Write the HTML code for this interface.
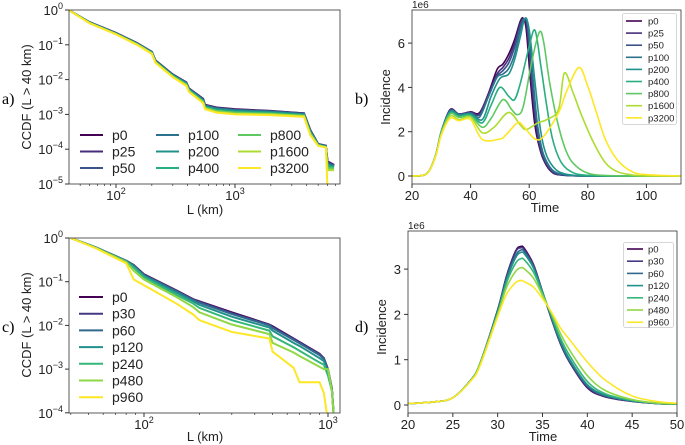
<!DOCTYPE html>
<html><head><meta charset="utf-8"><style>
html,body{margin:0;padding:0;background:#fff;}
svg{display:block;font-family:"Liberation Sans","DejaVu Sans",sans-serif;}
</style></head><body>
<svg id="fig" width="685" height="445" viewBox="0 0 685 445" xmlns="http://www.w3.org/2000/svg">
<defs>
<clipPath id="ca"><rect x="69" y="10" width="271" height="174"/></clipPath>
<clipPath id="cb"><rect x="412" y="10" width="269" height="174"/></clipPath>
<clipPath id="cc"><rect x="69" y="238" width="271" height="175"/></clipPath>
<clipPath id="cd"><rect x="408" y="231" width="269" height="182"/></clipPath>
</defs>
</svg>
<script>
// ---------- Panel a data (CCDF exponents, log10) ----------
const namesA = ['p0','p25','p50','p100','p200','p400','p800','p1600','p3200'];
const lenA = [40,60,100,150,200,215,300,390,410,540,560,700,1000,2000,3800,4300,5000,5800,6000,6800];
const ccdfExpA_p0    = [0,-.35,-.66,-.95,-1.20,-1.45,-1.85,-2.08,-2.25,-2.55,-2.72,-2.80,-2.85,-2.90,-2.97,-3.45,-3.85,-3.90,-4.35,-4.45];
const ccdfExpA_p25   = [0,-.35,-.66,-.95,-1.20,-1.46,-1.86,-2.09,-2.26,-2.56,-2.73,-2.81,-2.86,-2.91,-2.97,-3.46,-3.85,-3.90,-4.37,-4.45];
const ccdfExpA_p50   = [0,-.35,-.67,-.96,-1.21,-1.46,-1.86,-2.09,-2.26,-2.57,-2.74,-2.82,-2.87,-2.91,-2.98,-3.47,-3.86,-3.91,-4.40,-4.47];
const ccdfExpA_p100  = [0,-.36,-.67,-.96,-1.21,-1.47,-1.87,-2.10,-2.27,-2.58,-2.75,-2.83,-2.88,-2.92,-2.99,-3.48,-3.86,-3.91,-4.42,-4.48];
const ccdfExpA_p200  = [0,-.36,-.68,-.97,-1.22,-1.48,-1.88,-2.11,-2.28,-2.60,-2.77,-2.85,-2.90,-2.94,-3.00,-3.50,-3.87,-3.92,-4.45,-4.50];
const ccdfExpA_p400  = [0,-.37,-.68,-.98,-1.23,-1.49,-1.89,-2.13,-2.30,-2.62,-2.79,-2.88,-2.93,-2.96,-3.02,-3.53,-3.88,-3.93,-4.50,-4.52];
const ccdfExpA_p800  = [0,-.37,-.69,-.98,-1.24,-1.50,-1.91,-2.15,-2.32,-2.64,-2.81,-2.90,-2.95,-2.98,-3.04,-3.55,-3.89,-3.94,-4.55,-4.55];
const ccdfExpA_p1600 = [0,-.38,-.69,-.99,-1.25,-1.51,-1.92,-2.16,-2.34,-2.66,-2.83,-2.93,-2.98,-3.00,-3.05,-3.58,-3.90,-3.95,-4.60,-4.60];
const ccdfExpA_p3200 = [0,-.38,-.70,-1.00,-1.26,-1.52,-1.93,-2.18,-2.35,-2.68,-2.85,-2.95,-3.00,-3.02,-3.07,-3.60,-3.90,-3.95,-5.20,-5.20];
const seriesA = [ccdfExpA_p0,ccdfExpA_p25,ccdfExpA_p50,ccdfExpA_p100,ccdfExpA_p200,ccdfExpA_p400,ccdfExpA_p800,ccdfExpA_p1600,ccdfExpA_p3200];
const xTicksA = [2,3];
const yTicksA = [0,-1,-2,-3,-4,-5];

// ---------- Panel b data (incidence, 1e6) ----------
const namesB = ['p0','p25','p50','p100','p200','p400','p800','p1600','p3200'];
const timeB_p0 = [20,25,28,30,33,36,40,43,46,49,51,53,55,57,58,59,60.5,62,64,66,68,71,80,112];
const incB_p0  = [0,0.1,0.9,2.0,3.0,2.8,2.9,2.85,3.7,4.8,5.05,5.5,6.15,7.0,7.1,6.6,4.2,2.25,1.05,0.45,0.15,0.04,0,0];
const timeB_p25 = [20,25,28,30,33,36,40,43,46,49,51,53,55,57,58.2,59.2,60.7,62.2,64,66,68,71,80,112];
const incB_p25  = [0,0.1,0.9,2.0,2.98,2.8,2.88,2.8,3.65,4.6,4.9,5.3,6.0,6.9,7.1,6.7,4.4,2.4,1.1,0.5,0.17,0.05,0,0];
const timeB_p50 = [20,25,28,30,33,36,40,43,46,49,51,53,55,57,58.3,59.4,61,62.5,64.3,66.3,68.3,71.5,80,112];
const incB_p50  = [0,0.1,0.9,2.0,2.96,2.79,2.86,2.75,3.6,4.5,4.75,5.1,5.8,6.8,7.1,6.75,4.4,2.4,1.1,0.5,0.18,0.05,0,0];
const timeB_p100 = [20,25,28,30,33,36,40,43,46,49,51,53,55,57,58.4,59.6,61.3,62.8,64.6,66.6,68.6,72,80,112];
const incB_p100  = [0,0.1,0.9,2.0,2.93,2.78,2.83,2.65,3.55,4.45,4.6,4.85,5.5,6.6,7.1,6.8,4.4,2.35,1.1,0.5,0.2,0.06,0,0];
const timeB_p200 = [20,25,28,30,33,36,40,44,47,50,53,55,57,58.5,60,62,64,66,69,72,76,80,90,112];
const incB_p200  = [0,0.1,0.9,2.0,2.9,2.75,2.8,2.55,3.6,4.4,4.6,5.25,6.3,7.1,6.6,4.2,1.95,0.9,0.3,0.1,0.02,0,0,0];
const timeB_p400 = [20,25,28,30,33,36,40,44,47,50,53,55,57,60,62,64,66,68,71,75,80,90,100,112];
const incB_p400  = [0,0.1,0.9,1.98,2.85,2.7,2.75,2.4,3.2,4.0,3.6,3.45,4.2,5.85,6.57,4.95,3.15,1.65,0.6,0.15,0.03,0,0,0];
const timeB_p800 = [20,25,28,30,33,36,40,44,47,51,54,56,58,61,63.5,65,67,70,73,76,80,85,95,112];
const incB_p800  = [0,0.1,0.9,1.95,2.8,2.65,2.7,2.2,2.6,3.45,3.0,2.77,3.15,5.25,6.5,6.0,4.2,2.25,1.0,0.45,0.13,0.03,0,0];
const timeB_p1600 = [20,25,28,30,33,36,40,44,48,53,57,59,63,66,70,72,75,78,82,86,90,95,100,112];
const incB_p1600  = [0,0.1,0.9,1.9,2.7,2.55,2.65,1.95,2.2,2.87,2.3,2.1,2.4,2.55,3.0,4.65,3.75,2.7,1.5,0.6,0.2,0.05,0,0];
const timeB_p3200 = [20,25,28,30,33,36,40,44,50,52,56,58,62,65,70,73,77,80,83,86,90,95,100,112];
const incB_p3200  = [0,0.1,0.85,1.85,2.6,2.5,2.55,1.65,1.67,1.85,2.4,2.25,1.67,1.8,2.85,3.9,4.9,4.05,2.85,1.65,0.74,0.2,0.06,0];
const timesB = [timeB_p0,timeB_p25,timeB_p50,timeB_p100,timeB_p200,timeB_p400,timeB_p800,timeB_p1600,timeB_p3200];
const valsB = [incB_p0,incB_p25,incB_p50,incB_p100,incB_p200,incB_p400,incB_p800,incB_p1600,incB_p3200];
const xTicksB = [20,40,60,80,100];
const yTicksB = [0,2,4,6];

// ---------- Panel c data (CCDF exponents, log10) ----------
const namesC = ['p0','p30','p60','p120','p240','p480','p960'];
const lenC = [40,55,80,88,100,150,185,200,300,480,500,650,700,900,950,1000,1050,1080];
const ccdfExpC_p0   = [0,-.22,-.52,-.62,-.83,-1.20,-1.40,-1.45,-1.70,-1.98,-2.02,-2.30,-2.38,-2.65,-2.75,-3.00,-3.45,-4.2];
const ccdfExpC_p30  = [0,-.22,-.52,-.62,-.84,-1.21,-1.41,-1.46,-1.72,-1.99,-2.04,-2.31,-2.39,-2.66,-2.76,-3.01,-3.45,-4.2];
const ccdfExpC_p60  = [0,-.22,-.52,-.63,-.85,-1.22,-1.42,-1.48,-1.74,-2.00,-2.06,-2.33,-2.41,-2.68,-2.77,-3.03,-3.46,-4.2];
const ccdfExpC_p120 = [0,-.22,-.53,-.65,-.87,-1.25,-1.45,-1.53,-1.80,-2.05,-2.12,-2.40,-2.47,-2.75,-2.82,-3.10,-3.48,-4.2];
const ccdfExpC_p240 = [0,-.23,-.54,-.68,-.90,-1.30,-1.50,-1.60,-1.88,-2.12,-2.25,-2.50,-2.58,-2.85,-2.90,-3.15,-3.50,-4.2];
const ccdfExpC_p480 = [0,-.23,-.55,-.75,-.95,-1.35,-1.58,-1.70,-1.98,-2.20,-2.40,-2.62,-2.70,-2.95,-3.00,-3.00,-3.50,-4.2];
const ccdfExpC_p960 = [0,-.24,-.58,-.95,-1.08,-1.50,-1.75,-1.88,-2.15,-2.30,-2.60,-2.97,-3.30,-3.30,-3.55,-4.2,-4.2,-4.2];
const seriesC = [ccdfExpC_p0,ccdfExpC_p30,ccdfExpC_p60,ccdfExpC_p120,ccdfExpC_p240,ccdfExpC_p480,ccdfExpC_p960];
const xTicksC = [2,3];
const yTicksC = [0,-1,-2,-3,-4];

// ---------- Panel d data (incidence, 1e6) ----------
const namesD = ['p0','p30','p60','p120','p240','p480','p960'];
const timeD = [20,23,25,27,28,30,31,32,32.6,33,34,35,36,37,38,40,42,45,48,50];
const incD_p0   = [0.03,0.07,0.16,0.55,0.9,2.1,2.85,3.4,3.5,3.45,3.1,2.5,1.9,1.35,0.95,0.38,0.18,0.08,0.03,0.02];
const incD_p30  = [0.03,0.07,0.16,0.55,0.9,2.1,2.85,3.38,3.47,3.42,3.08,2.5,1.9,1.36,0.96,0.4,0.19,0.08,0.03,0.02];
const incD_p60  = [0.03,0.07,0.16,0.55,0.9,2.08,2.8,3.3,3.42,3.38,3.05,2.5,1.92,1.38,0.98,0.42,0.2,0.09,0.03,0.02];
const incD_p120 = [0.03,0.07,0.16,0.55,0.9,2.06,2.76,3.25,3.37,3.33,3.02,2.49,1.95,1.42,1.02,0.45,0.22,0.09,0.03,0.02];
const incD_p240 = [0.03,0.07,0.16,0.55,0.9,2.03,2.7,3.13,3.23,3.2,2.93,2.46,1.98,1.48,1.1,0.52,0.25,0.1,0.04,0.02];
const incD_p480 = [0.03,0.07,0.16,0.54,0.89,2.0,2.6,2.95,3.03,3.0,2.8,2.42,2.02,1.58,1.22,0.65,0.32,0.12,0.04,0.03];
const incD_p960 = [0.03,0.07,0.16,0.53,0.85,1.95,2.45,2.7,2.75,2.72,2.6,2.35,2.05,1.7,1.45,0.95,0.55,0.2,0.07,0.04];
const seriesD = [incD_p0,incD_p30,incD_p60,incD_p120,incD_p240,incD_p480,incD_p960];
const xTicksD = [20,25,30,35,40,45,50];
const yTicksD = [0,1,2,3];

const col9 = ['#440154','#472d7b','#3b528b','#2c728e','#21918c','#28ae80','#5ec962','#addc30','#fde725'];
const col7 = ['#440154','#443983','#31688e','#21918c','#35b779','#8fd744','#fde725'];

const NS='http://www.w3.org/2000/svg';
const fig=document.getElementById('fig');
function mk(tag,attrs,parent){const e=document.createElementNS(NS,tag);for(const k in attrs)e.setAttribute(k,attrs[k]);(parent||fig).appendChild(e);return e;}
function lin(d0,d1,r0,r1){return v=>r0+(v-d0)*(r1-r0)/(d1-d0);}
function smooth(pts){let d='M'+pts[0][0].toFixed(2)+','+pts[0][1].toFixed(2);
 for(let i=0;i<pts.length-1;i++){const p0=pts[i-1]||pts[i],p1=pts[i],p2=pts[i+1],p3=pts[i+2]||p2;
  const c1=[p1[0]+(p2[0]-p0[0])/6,p1[1]+(p2[1]-p0[1])/6],c2=[p2[0]-(p3[0]-p1[0])/6,p2[1]-(p3[1]-p1[1])/6];
  d+='C'+c1[0].toFixed(2)+','+c1[1].toFixed(2)+' '+c2[0].toFixed(2)+','+c2[1].toFixed(2)+' '+p2[0].toFixed(2)+','+p2[1].toFixed(2);}
 return d;}
function poly(pts){return 'M'+pts.map(p=>p[0].toFixed(2)+','+p[1].toFixed(2)).join('L');}
function txt(x,y,s,size,anchor,parent){const t=mk('text',{x:x,y:y,'font-size':size,'text-anchor':anchor||'middle',fill:'#222'},parent);t.textContent=s;return t;}
function pow10(x,y,exp,anchor){const t=mk('text',{x:x,y:y,'font-size':13,'text-anchor':anchor,fill:'#222'});
 t.appendChild(document.createTextNode('10'));const s=mk('tspan',{dy:-6,'font-size':9},t);s.textContent=String(exp).replace('-','\u2212');return t;}
function frame(x0,y0,x1,y1,name){const r=mk('rect',{x:x0,y:y0,width:x1-x0,height:y1-y0,fill:'none',stroke:'#333','stroke-width':0.8});
 
 }
function plabel(x,y,s,name){const t=mk('text',{x:x,y:y,'font-size':16,'font-family':'Liberation Serif, serif',fill:'#000'});t.textContent=s;
 
 }
function ytitle(x,y,s,name){const t=mk('text',{x:x,y:y,'font-size':13,'text-anchor':'middle',fill:'#222',transform:'rotate(-90 '+x+' '+y+')'});t.textContent=s;
 
 }

// ===== Panel a =====
(function(){
 const X=e=>116+119*(e-2), Y=e=>10-34.8*e;
 const g=mk('g',{'clip-path':'url(#ca)'});
 
 
 seriesA.forEach((s,i)=>{const pts=lenA.map((L,j)=>[X(Math.log10(L)),Y(s[j])]);
  const p=mk('path',{d:poly(pts),fill:'none',stroke:col9[i],'stroke-width':2},g);
  
  });
 frame(69,10,340,184,'panel-a-axes');
 xTicksA.forEach(e=>{mk('line',{x1:X(e),x2:X(e),y1:184,y2:188,stroke:'#333'});pow10(X(e),200,e,'middle');});
 for(let d=1;d<=3;d++)for(let m=2;m<=9;m++){const e=d+Math.log10(m);const x=X(e);if(x>69&&x<340)mk('line',{x1:x,x2:x,y1:184,y2:186,stroke:'#333','stroke-width':0.7});}
 yTicksA.forEach(e=>{mk('line',{x1:65,x2:69,y1:Y(e),y2:Y(e),stroke:'#333'});pow10(63,Y(e)+5,e,'end');});
 const t1=txt(205,214,'L (km)',13);
 
 
 ytitle(31,97,'CCDF (L > 40 km)','y-axis-title-a');
 plabel(2,104,'a)','panel-label-a');
 const lg=mk('g',{});
 
 
 namesA.forEach((n,i)=>{const c=Math.floor(i/3),r=i%3;const lx=[80,156,238][c],ly=135+r*16.5;
  const e=mk('g',{},lg);
  
  
  mk('line',{x1:lx,x2:lx+23,y1:ly,y2:ly,stroke:col9[i],'stroke-width':2},e);
  txt(lx+32,ly+5,n,14,'start',e);});
})();

// ===== Panel b =====
(function(){
 const X=lin(20,100,412,646.4), Y=v=>176-22.15*v;
 const g=mk('g',{'clip-path':'url(#cb)'});
 
 
 valsB.forEach((s,i)=>{const pts=timesB[i].map((t,j)=>[X(t),Y(s[j])]);
  const p=mk('path',{d:smooth(pts),fill:'none',stroke:col9[i],'stroke-width':1.6},g);
  
  });
 frame(412,10,681,184,'panel-b-axes');
 xTicksB.forEach(t=>{mk('line',{x1:X(t),x2:X(t),y1:184,y2:188,stroke:'#333'});txt(X(t),200,String(t),13);});
 yTicksB.forEach(v=>{mk('line',{x1:408,x2:412,y1:Y(v),y2:Y(v),stroke:'#333'});txt(405,Y(v)+5,String(v),13,'end');});
 const o=txt(412,8,'1e6',10,'start');
 
 
 const t1=txt(545,212,'Time',13);
 
 
 ytitle(390,97,'Incidence','y-axis-title-b');
 plabel(355,104,'b)','panel-label-b');
 const lg=mk('g',{});
 
 
 mk('rect',{x:622.5,y:13.5,width:54,height:111,fill:'#fff',stroke:'#ccc','stroke-width':0.8,rx:2},lg);
 namesB.forEach((n,i)=>{const ly=21+i*12.1;const e=mk('g',{},lg);
  
  
  mk('line',{x1:626,x2:642,y1:ly,y2:ly,stroke:col9[i],'stroke-width':1.6},e);
  txt(648,ly+3.5,n,9.5,'start',e);});
})();

// ===== Panel c =====
(function(){
 const X=e=>144+184*(e-2), Y=e=>238-43.7*e;
 const g=mk('g',{'clip-path':'url(#cc)'});
 
 
 seriesC.forEach((s,i)=>{const pts=lenC.map((L,j)=>[X(Math.log10(L)),Y(s[j])]);
  const p=mk('path',{d:poly(pts),fill:'none',stroke:col7[i],'stroke-width':2},g);
  
  });
 frame(69,238,340,413,'panel-c-axes');
 xTicksC.forEach(e=>{mk('line',{x1:X(e),x2:X(e),y1:413,y2:417,stroke:'#333'});pow10(X(e),429,e,'middle');});
 for(let d=1;d<=3;d++)for(let m=2;m<=9;m++){const e=d+Math.log10(m);const x=X(e);if(x>69&&x<340)mk('line',{x1:x,x2:x,y1:413,y2:415,stroke:'#333','stroke-width':0.7});}
 yTicksC.forEach(e=>{mk('line',{x1:65,x2:69,y1:Y(e),y2:Y(e),stroke:'#333'});pow10(63,Y(e)+5,e,'end');});
 const t1=txt(205,441,'L (km)',13);
 
 
 ytitle(31,325,'CCDF (L > 40 km)','y-axis-title-c');
 plabel(2,332,'c)','panel-label-c');
 const lg=mk('g',{});
 
 
 namesC.forEach((n,i)=>{const ly=297+i*16.7;const e=mk('g',{},lg);
  
  
  mk('line',{x1:79,x2:103,y1:ly,y2:ly,stroke:col7[i],'stroke-width':2},e);
  txt(112,ly+5,n,14,'start',e);});
})();

// ===== Panel d =====
(function(){
 const X=lin(20,50,408,677), Y=v=>405-45.3*v;
 const g=mk('g',{'clip-path':'url(#cd)'});
 
 
 seriesD.forEach((s,i)=>{const pts=timeD.map((t,j)=>[X(t),Y(s[j])]);
  const p=mk('path',{d:smooth(pts),fill:'none',stroke:col7[i],'stroke-width':1.6},g);
  
  });
 frame(408,231,677,413,'panel-d-axes');
 xTicksD.forEach(t=>{mk('line',{x1:X(t),x2:X(t),y1:413,y2:417,stroke:'#333'});txt(X(t),429,String(t),13);});
 yTicksD.forEach(v=>{mk('line',{x1:404,x2:408,y1:Y(v),y2:Y(v),stroke:'#333'});txt(401,Y(v)+5,String(v),13,'end');});
 const o=txt(408,229,'1e6',10,'start');
 
 
 const t1=txt(543,441,'Time',13);
 
 
 ytitle(386,327,'Incidence','y-axis-title-d');
 plabel(355,332,'d)','panel-label-d');
 const lg=mk('g',{});
 
 
 mk('rect',{x:623.5,y:242.5,width:50,height:85,fill:'#fff',stroke:'#ccc','stroke-width':0.8,rx:2},lg);
 namesD.forEach((n,i)=>{const ly=249+i*12.2;const e=mk('g',{},lg);
  
  
  mk('line',{x1:627,x2:643,y1:ly,y2:ly,stroke:col7[i],'stroke-width':1.6},e);
  txt(648,ly+3.5,n,9.5,'start',e);});
})();
</script>
</body></html>
